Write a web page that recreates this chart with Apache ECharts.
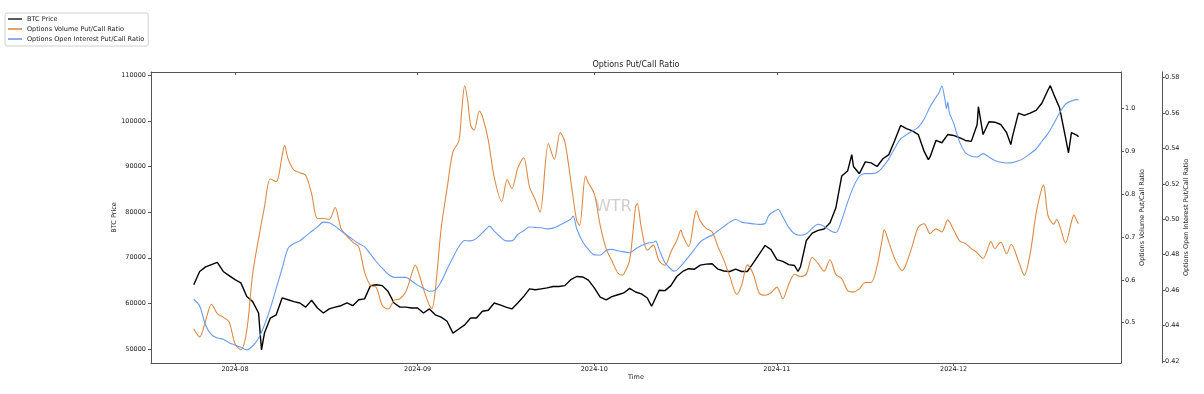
<!DOCTYPE html>
<html><head><meta charset="utf-8">
<script src="https://cdn.jsdelivr.net/npm/echarts@6/dist/echarts.min.js"></script>
<style>html,body{margin:0;padding:0;background:#fff}#c{width:1204px;height:394px}</style>
</head><body><div id="c"></div>
<script>
// ---- Data ----
const btcPrice = [
['2024-07-25',64100],['2024-07-26',67000],['2024-07-27',68000],['2024-07-28',68500],['2024-07-29',69000],
['2024-07-30',67000],['2024-07-31',66100],['2024-08-01',65200],['2024-08-02',64500],['2024-08-03',61500],
['2024-08-04',60400],['2024-08-05',57900],['2024-08-05 12:00',49850],['2024-08-06',53500],['2024-08-07',56800],
['2024-08-08',57500],['2024-08-09',61200],['2024-08-10',60800],['2024-08-11',60400],['2024-08-12',60100],
['2024-08-13',59200],['2024-08-14',60700],['2024-08-15',59000],['2024-08-16',57900],['2024-08-17',58800],
['2024-08-18',59200],['2024-08-19',59500],['2024-08-20',60100],['2024-08-21',59500],['2024-08-22',60800],
['2024-08-23',61000],['2024-08-24',63900],['2024-08-25',64100],['2024-08-26',63900],['2024-08-27',62600],
['2024-08-28',60100],['2024-08-29',59200],['2024-08-30',59200],['2024-08-31',59000],['2024-09-01',59000],
['2024-09-02',57900],['2024-09-03',58800],['2024-09-04',57500],['2024-09-05',57000],['2024-09-06',56100],
['2024-09-07',53500],['2024-09-08',54400],['2024-09-09',55300],['2024-09-10',56800],['2024-09-11',56800],
['2024-09-12',58300],['2024-09-13',58500],['2024-09-14',60100],['2024-09-15',59700],['2024-09-16',59200],
['2024-09-17',58800],['2024-09-18',60100],['2024-09-19',61500],['2024-09-20',63200],['2024-09-21',63000],
['2024-09-22',63200],['2024-09-23',63400],['2024-09-24',63700],['2024-09-25',63700],['2024-09-26',63900],
['2024-09-27',65200],['2024-09-28',65900],['2024-09-29',65800],['2024-09-30',65100],['2024-10-01',63400],
['2024-10-02',61400],['2024-10-03',60800],['2024-10-04',61500],['2024-10-05',61900],['2024-10-06',62300],
['2024-10-07',63300],['2024-10-08',62500],['2024-10-09',62100],['2024-10-10',61200],['2024-10-10 17:00',59400],
['2024-10-11',60100],['2024-10-12',62900],['2024-10-13',62800],['2024-10-14',63900],['2024-10-15',65900],
['2024-10-16',67000],['2024-10-17',67600],['2024-10-18',67500],['2024-10-19',68400],['2024-10-20',68600],
['2024-10-21',68700],['2024-10-22',67500],['2024-10-23',67100],['2024-10-24',67000],['2024-10-25',67500],
['2024-10-26',67000],['2024-10-27',67000],['2024-10-28',68900],['2024-10-29',70800],['2024-10-30',72700],
['2024-10-31',71800],['2024-11-01',69600],['2024-11-02',69200],['2024-11-03',68500],['2024-11-04',68300],
['2024-11-04 14:00',67000],['2024-11-05',68000],['2024-11-06',73800],['2024-11-07',75400],['2024-11-08',76000],
['2024-11-09',76300],['2024-11-10',77600],['2024-11-11',80900],['2024-11-12',87900],['2024-11-13',89000],
['2024-11-13 17:00',92600],['2024-11-14',90000],['2024-11-15',88400],['2024-11-16',91000],['2024-11-17',90800],
['2024-11-18',90000],['2024-11-19',91700],['2024-11-20',92600],['2024-11-21',95700],['2024-11-22',99000],
['2024-11-23',98300],['2024-11-24',97800],['2024-11-25',97000],['2024-11-26',93300],['2024-11-26 17:00',91500],
['2024-11-27',92100],['2024-11-28',95700],['2024-11-29',95200],['2024-11-30',97000],['2024-12-01',96800],
['2024-12-02',96300],['2024-12-03',95700],['2024-12-04',95500],['2024-12-05',99200],['2024-12-05 05:00',103100],
['2024-12-06',97000],['2024-12-07',99800],['2024-12-08',99700],['2024-12-09',99200],['2024-12-10',97400],
['2024-12-10 17:00',94800],['2024-12-11',96600],['2024-12-12',101700],['2024-12-13',101200],['2024-12-14',101700],
['2024-12-15',102300],['2024-12-16',103900],['2024-12-17',106700],['2024-12-17 10:00',107700],['2024-12-18',105800],
['2024-12-19',102800],['2024-12-20',96300],['2024-12-20 12:00',93000],['2024-12-21',97400],['2024-12-22',96800],
['2024-12-22 05:00',96500]
];

const volumeRatio = [
['2024-07-25',0.486],['2024-07-26',0.467],['2024-07-27',0.504],['2024-07-28',0.543],['2024-07-29',0.521],
['2024-07-30',0.513],['2024-07-31',0.502],['2024-08-01',0.451],['2024-08-02',0.437],['2024-08-03',0.482],
['2024-08-04',0.614],['2024-08-05',0.696],['2024-08-06',0.770],['2024-08-07',0.836],['2024-08-08',0.829],
['2024-08-09',0.889],['2024-08-09 10:00',0.914],['2024-08-10',0.883],['2024-08-11',0.856],['2024-08-12',0.850],
['2024-08-13',0.844],['2024-08-14',0.801],['2024-08-15',0.743],['2024-08-16',0.743],['2024-08-17',0.741],
['2024-08-18',0.769],['2024-08-19',0.720],['2024-08-20',0.702],['2024-08-21',0.688],['2024-08-22',0.677],
['2024-08-23',0.618],['2024-08-24',0.587],['2024-08-25',0.582],['2024-08-26',0.540],['2024-08-27',0.532],
['2024-08-28',0.552],['2024-08-29',0.556],['2024-08-30',0.572],['2024-08-31',0.614],['2024-08-31 14:00',0.634],
['2024-09-01',0.624],['2024-09-02',0.579],['2024-09-03',0.540],['2024-09-03 10:00',0.533],['2024-09-04',0.575],
['2024-09-05',0.720],['2024-09-06',0.813],['2024-09-07',0.899],['2024-09-08',0.924],['2024-09-08 12:00',0.996],
['2024-09-09',1.053],['2024-09-09 12:00',1.019],['2024-09-10',0.961],['2024-09-10 14:00',0.949],['2024-09-11 12:00',0.994],
['2024-09-12',0.982],['2024-09-13',0.926],['2024-09-14',0.840],['2024-09-15 07:00',0.783],['2024-09-16 05:00',0.834],
['2024-09-17',0.813],['2024-09-18',0.860],['2024-09-19',0.885],['2024-09-20',0.817],['2024-09-21',0.786],
['2024-09-21 19:00',0.758],['2024-09-23 05:00',0.918],['2024-09-24 05:00',0.881],['2024-09-25 05:00',0.944],['2024-09-26',0.922],
['2024-09-27',0.832],['2024-09-28',0.739],['2024-09-28 12:00',0.727],['2024-09-29 12:00',0.842],['2024-09-30',0.826],
['2024-10-01',0.801],['2024-10-02',0.727],['2024-10-03',0.673],['2024-10-04',0.644],['2024-10-05',0.616],
['2024-10-05 17:00',0.611],['2024-10-06',0.613],['2024-10-07',0.646],['2024-10-08',0.770],['2024-10-08 07:00',0.778],
['2024-10-09',0.720],['2024-10-10',0.669],['2024-10-11',0.681],['2024-10-12',0.644],['2024-10-13',0.634],
['2024-10-14',0.665],['2024-10-15',0.692],['2024-10-15 17:00',0.716],['2024-10-16',0.704],['2024-10-17',0.678],
['2024-10-18',0.747],['2024-10-18 07:00',0.761],['2024-10-19',0.737],['2024-10-20',0.720],['2024-10-21',0.712],
['2024-10-22',0.677],['2024-10-23',0.646],['2024-10-24',0.608],['2024-10-25 05:00',0.566],['2024-10-26',0.587],
['2024-10-27',0.635],['2024-10-28',0.613],['2024-10-29',0.569],['2024-10-30',0.564],['2024-10-31',0.570],
['2024-11-01',0.583],['2024-11-02',0.556],['2024-11-03',0.589],['2024-11-04',0.613],['2024-11-05',0.608],
['2024-11-06',0.614],['2024-11-07',0.652],['2024-11-08',0.638],['2024-11-09',0.620],['2024-11-10',0.647],
['2024-11-11',0.613],['2024-11-12',0.603],['2024-11-13',0.575],['2024-11-14',0.572],['2024-11-15',0.579],
['2024-11-16',0.594],['2024-11-17',0.594],['2024-11-18',0.632],['2024-11-19',0.704],['2024-11-19 05:00',0.717],
['2024-11-20',0.688],['2024-11-21',0.649],['2024-11-22',0.624],['2024-11-22 07:00',0.622],['2024-11-23',0.639],
['2024-11-24',0.680],['2024-11-25',0.723],['2024-11-26',0.731],['2024-11-27',0.708],['2024-11-28',0.719],
['2024-11-29',0.712],['2024-11-30',0.740],['2024-12-01',0.717],['2024-12-02',0.691],['2024-12-03',0.685],
['2024-12-04',0.673],['2024-12-05',0.663],['2024-12-06',0.650],['2024-12-07',0.681],['2024-12-07 07:00',0.690],
['2024-12-08',0.673],['2024-12-09',0.688],['2024-12-10',0.661],['2024-12-10 19:00',0.683],['2024-12-12',0.644],
['2024-12-13',0.611],['2024-12-14',0.661],['2024-12-15',0.755],['2024-12-16',0.815],['2024-12-16 07:00',0.821],
['2024-12-17',0.751],['2024-12-18',0.730],['2024-12-18 12:00',0.741],['2024-12-19',0.727],['2024-12-20',0.686],
['2024-12-21',0.735],['2024-12-21 10:00',0.751],['2024-12-22',0.735],['2024-12-22 05:00',0.731]
];

const oiRatio = [
['2024-07-25',0.4548],['2024-07-26',0.4510],['2024-07-27',0.4403],['2024-07-28',0.4348],['2024-07-29',0.4329],
['2024-07-30',0.4322],['2024-07-31',0.4303],['2024-08-01',0.4290],['2024-08-02',0.4277],['2024-08-03',0.4262],
['2024-08-04',0.4284],['2024-08-05',0.4328],['2024-08-06',0.4403],['2024-08-07',0.4497],['2024-08-08',0.4610],
['2024-08-09',0.4722],['2024-08-10',0.4835],['2024-08-11',0.4863],['2024-08-12',0.4878],['2024-08-13',0.4905],
['2024-08-14',0.4931],['2024-08-15',0.4957],['2024-08-16',0.4984],['2024-08-17',0.4980],['2024-08-18',0.4961],
['2024-08-19',0.4935],['2024-08-20',0.4910],['2024-08-21',0.4886],['2024-08-22',0.4863],['2024-08-23',0.4845],
['2024-08-24',0.4803],['2024-08-25',0.4760],['2024-08-26',0.4724],['2024-08-27',0.4690],['2024-08-28',0.4672],
['2024-08-29',0.4672],['2024-08-30',0.4672],['2024-08-31',0.4651],['2024-09-01',0.4628],['2024-09-02',0.4610],
['2024-09-03',0.4593],['2024-09-04',0.4600],['2024-09-05',0.4647],['2024-09-06',0.4717],['2024-09-07',0.4784],
['2024-09-08',0.4845],['2024-09-09',0.4880],['2024-09-10',0.4878],['2024-09-11',0.4892],['2024-09-12',0.4924],
['2024-09-13',0.4957],['2024-09-13 05:00',0.4961],['2024-09-14',0.4933],['2024-09-15',0.4901],['2024-09-16',0.4878],
['2024-09-17',0.4878],['2024-09-18',0.4914],['2024-09-19',0.4935],['2024-09-20',0.4956],['2024-09-21',0.4954],
['2024-09-22',0.4952],['2024-09-23',0.4946],['2024-09-24',0.4950],['2024-09-25',0.4965],['2024-09-26',0.4982],
['2024-09-27',0.5001],['2024-09-27 10:00',0.5018],['2024-09-28',0.4948],['2024-09-29',0.4875],['2024-09-30',0.4830],
['2024-10-01',0.4799],['2024-10-02',0.4798],['2024-10-03',0.4824],['2024-10-04',0.4830],['2024-10-05',0.4822],
['2024-10-06',0.4816],['2024-10-07',0.4811],['2024-10-08',0.4832],['2024-10-09',0.4852],['2024-10-10',0.4865],
['2024-10-11',0.4869],['2024-10-11 10:00',0.4877],['2024-10-12',0.4830],['2024-10-13',0.4754],['2024-10-14',0.4719],
['2024-10-14 10:00',0.4707],['2024-10-15',0.4713],['2024-10-16',0.4747],['2024-10-17',0.4788],['2024-10-18',0.4830],
['2024-10-19',0.4873],['2024-10-20',0.4895],['2024-10-21',0.4910],['2024-10-22',0.4935],['2024-10-23',0.4959],
['2024-10-24',0.4984],['2024-10-25',0.4999],['2024-10-26',0.4984],['2024-10-27',0.4978],['2024-10-28',0.4974],
['2024-10-29',0.4971],['2024-10-30',0.4976],['2024-10-30 12:00',0.5014],['2024-10-31',0.5034],['2024-11-01',0.5053],
['2024-11-01 05:00',0.5057],['2024-11-02',0.5014],['2024-11-03',0.4954],['2024-11-04',0.4918],['2024-11-05',0.4910],
['2024-11-06',0.4918],['2024-11-07',0.4950],['2024-11-08',0.4972],['2024-11-09',0.4961],['2024-11-10',0.4937],
['2024-11-11',0.4925],['2024-11-12',0.4995],['2024-11-13',0.5096],['2024-11-14',0.5183],['2024-11-15',0.5243],
['2024-11-16',0.5258],['2024-11-17',0.5258],['2024-11-18',0.5264],['2024-11-19',0.5296],['2024-11-20',0.5341],
['2024-11-21',0.5401],['2024-11-22',0.5454],['2024-11-23',0.5478],['2024-11-24',0.5499],['2024-11-25',0.5521],
['2024-11-26',0.5567],['2024-11-27',0.5636],['2024-11-28',0.5689],['2024-11-28 12:00',0.5713],['2024-11-29',0.5753],
['2024-11-29 12:00',0.5681],['2024-11-29 19:00',0.5625],['2024-11-30',0.5662],['2024-11-30 07:00',0.5600],['2024-12-01',0.5544],
['2024-12-02',0.5437],['2024-12-03',0.5375],['2024-12-04',0.5356],['2024-12-05',0.5352],['2024-12-06',0.5371],
['2024-12-07',0.5352],['2024-12-08',0.5332],['2024-12-09',0.5322],['2024-12-10',0.5318],['2024-12-11',0.5320],
['2024-12-12',0.5330],['2024-12-13',0.5347],['2024-12-14',0.5371],['2024-12-15',0.5397],['2024-12-16',0.5441],
['2024-12-17',0.5484],['2024-12-18',0.5540],['2024-12-19',0.5602],['2024-12-20',0.5651],['2024-12-21',0.5668],
['2024-12-22',0.5676],['2024-12-22 05:00',0.5676]
];

const seriesNames = ['BTC Price','Options Volume Put/Call Ratio','Options Open Interest Put/Call Ratio'];
const monthTicks = ['2024-08-01','2024-09-01','2024-10-01','2024-11-01','2024-12-01'];
const btcTicks = [50000,60000,70000,80000,90000,100000,110000];
const volTicks = [0.5,0.6,0.7,0.8,0.9,1.0];
const oiTicks = [0.42,0.44,0.46,0.48,0.50,0.52,0.54,0.56,0.58];
const timeRange = ['2024-07-17 17:45','2024-12-29 10:00'];
const btcRange = [46950, 110700];
const volRange = [0.406, 1.085];
const oiRange = [0.4188, 0.5832];

// ---- helpers ----
function ts(s){
  const m = s.match(/^(\d{4})-(\d{2})-(\d{2})(?:[ T](\d{2}):(\d{2}))?$/);
  return new Date(+m[1], +m[2]-1, +m[3], m[4]?+m[4]:0, m[5]?+m[5]:0).getTime();
}
const toPts = arr => arr.map(p => [ts(p[0]), p[1]]);
const FONT = 'DejaVu Sans';
const TXT = '#222';
const AX = '#555';
const fs = 6.5;
const C_BTC = '#000', C_VOL = '#dd8a45', C_OI = '#6a9bef';
const monthVals = monthTicks.map(ts);
function fmtMonth(v){ const d = new Date(v); return d.getFullYear()+'-'+String(d.getMonth()+1).padStart(2,'0'); }
const nameStyle = {fontFamily:FONT,fontSize:fs,color:TXT};

const chart = echarts.init(document.getElementById('c'), null, {renderer:'canvas'});
chart.setOption({
  animation:false,
  backgroundColor:'#fff',
  textStyle:{fontFamily:FONT},
  grid:{left:151,right:83,top:72,bottom:31,containLabel:false},
  legend:{
    left:5, top:13, orient:'vertical', padding:[1,4,2,3], itemGap:0,
    itemWidth:14, itemHeight:1.6, borderColor:'#d0d0d0', borderWidth:1, borderRadius:2,
    textStyle:{fontFamily:FONT,fontSize:fs,color:TXT,lineHeight:10},
    data:[
      {name:seriesNames[0],icon:'rect',itemStyle:{color:'#333'}},
      {name:seriesNames[1],icon:'rect',itemStyle:{color:C_VOL}},
      {name:seriesNames[2],icon:'rect',itemStyle:{color:C_OI}}
    ]
  },
  xAxis:[{
    type:'value', min:ts(timeRange[0]), max:ts(timeRange[1]),
    name:'Time', nameLocation:'middle', nameGap:10.5, nameMoveOverlap:false,
    nameTextStyle:nameStyle,
    axisLine:{show:true,onZero:false,lineStyle:{color:AX,width:1}},
    axisTick:{show:true,length:3,customValues:monthVals,lineStyle:{color:AX}},
    axisLabel:{fontFamily:FONT,fontSize:fs,color:TXT,margin:3,customValues:monthVals,formatter:fmtMonth,hideOverlap:false},
    splitLine:{show:false}
  },{
    type:'value', position:'top', min:ts(timeRange[0]), max:ts(timeRange[1]),
    axisLine:{show:true,onZero:false,lineStyle:{color:AX,width:1}},
    axisTick:{show:true,inside:true,length:3,customValues:monthVals,lineStyle:{color:AX}},
    axisLabel:{show:false},
    splitLine:{show:false}
  }],
  yAxis:[{
    type:'value', position:'left', min:btcRange[0], max:btcRange[1],
    name:seriesNames[0], nameLocation:'middle', nameGap:33, nameRotate:90, nameMoveOverlap:false,
    nameTextStyle:nameStyle,
    axisLine:{show:true,lineStyle:{color:AX,width:1}},
    axisTick:{show:true,length:3,customValues:btcTicks,lineStyle:{color:AX}},
    axisLabel:{fontFamily:FONT,fontSize:fs,color:TXT,margin:5,customValues:btcTicks,formatter:v=>String(v)},
    splitLine:{show:false}
  },{
    type:'value', position:'right', min:volRange[0], max:volRange[1],
    name:seriesNames[1], nameLocation:'middle', nameGap:18, nameRotate:90, nameMoveOverlap:false,
    nameTextStyle:nameStyle,
    axisLine:{show:true,lineStyle:{color:AX,width:1}},
    axisTick:{show:true,length:3,customValues:volTicks,lineStyle:{color:AX}},
    axisLabel:{fontFamily:FONT,fontSize:fs,color:TXT,margin:4,customValues:volTicks,formatter:v=>v.toFixed(1)},
    splitLine:{show:false}
  },{
    type:'value', position:'right', offset:41, min:oiRange[0], max:oiRange[1],
    name:seriesNames[2], nameLocation:'middle', nameGap:21, nameRotate:90, nameMoveOverlap:false,
    nameTextStyle:nameStyle,
    axisLine:{show:true,lineStyle:{color:AX,width:1}},
    axisTick:{show:true,length:3,customValues:oiTicks,lineStyle:{color:AX}},
    axisLabel:{fontFamily:FONT,fontSize:fs,color:TXT,margin:3,customValues:oiTicks,formatter:v=>v.toFixed(2)},
    splitLine:{show:false}
  }],
  graphic:[
    {type:'text',x:636,y:65,style:{text:'Options Put/Call Ratio',font:'8px "DejaVu Sans"',fill:'#222',textAlign:'center',textVerticalAlign:'middle'},z:10},
    {type:'text',x:595,y:207,style:{text:'WTR',font:'16px "DejaVu Sans"',fill:'rgba(160,160,160,0.5)',textAlign:'left',textVerticalAlign:'middle'},z:10}
  ],
  series:[
    {name:seriesNames[0],type:'line',xAxisIndex:0,yAxisIndex:0,data:toPts(btcPrice),symbol:'none',
     lineStyle:{color:C_BTC,width:1.4},itemStyle:{color:C_BTC}},
    {name:seriesNames[1],type:'line',xAxisIndex:0,yAxisIndex:1,data:toPts(volumeRatio),symbol:'none',smooth:0.3,
     lineStyle:{color:C_VOL,width:1.1},itemStyle:{color:C_VOL}},
    {name:seriesNames[2],type:'line',xAxisIndex:0,yAxisIndex:2,data:toPts(oiRatio),symbol:'none',smooth:0.3,
     lineStyle:{color:C_OI,width:1.1},itemStyle:{color:C_OI}}
  ]
});
</script></body></html>
